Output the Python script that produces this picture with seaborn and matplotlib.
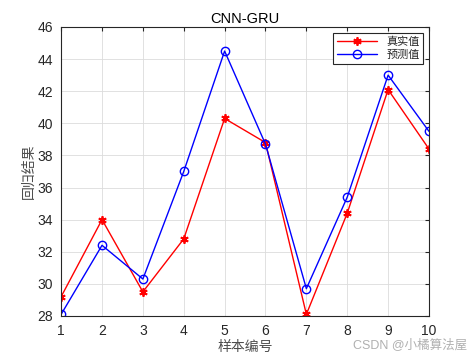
"""
CNN-GRU 回归结果：真实值与预测值对比
"""

import pandas as pd
import matplotlib.pyplot as plt
import seaborn as sns

sample_ids = [1, 2, 3, 4, 5, 6, 7, 8, 9, 10]
true_vals = [29.2, 34.0, 29.5, 32.8, 40.3, 38.8, 28.1, 34.4, 42.1, 38.4]
pred_vals = [28.1, 32.4, 30.3, 37.0, 44.5, 38.7, 29.7, 35.4, 43.0, 39.5]
y_ticks = [28, 30, 32, 34, 36, 38, 40, 42, 44, 46]

sns.set_style('white')
plt.rcParams['font.family'] = ['Liberation Sans', 'Noto Sans CJK SC', 'DejaVu Sans']

CJK = ['Noto Sans CJK SC', 'DejaVu Sans']


def main():
    df = pd.DataFrame({'样本编号': sample_ids, '真实值': true_vals, '预测值': pred_vals})

    fig = plt.figure(figsize=(4.74, 3.55), dpi=100)
    ax = fig.add_axes([0.129, 0.11, 0.776, 0.814])

    sns.lineplot(data=df, x='样本编号', y='真实值', ax=ax, color='#ff0000',
                 marker=(6, 2, 0), markersize=6, markeredgecolor='#ff0000',
                 markeredgewidth=1.3, linewidth=1.0, label='真实值')
    sns.lineplot(data=df, x='样本编号', y='预测值', ax=ax, color='#0000ff',
                 marker='o', markersize=6, markerfacecolor='none',
                 markeredgecolor='#0000ff', markeredgewidth=1.0,
                 linewidth=1.0, label='预测值')

    ax.set_xlim(1, 10)
    ax.set_ylim(28, 46)
    ax.set_xticks(sample_ids)
    ax.set_yticks(y_ticks)
    ax.grid(True, color='#dcdcdc', linewidth=0.6)
    ax.tick_params(direction='in', length=3, top=True, right=True,
                   labelsize=10, colors='#262626', pad=6)
    for sp in ax.spines.values():
        sp.set_color('#262626')
        sp.set_linewidth(0.8)

    ax.set_title('CNN-GRU', fontsize=10.5, color='#000000', pad=3)
    ax.set_xlabel('样本编号', fontsize=10, color='#4d4d4d', labelpad=1,
                  family=CJK)
    ax.set_ylabel('回归结果', fontsize=10, color='#4d4d4d', labelpad=1,
                  family=CJK)

    leg = ax.legend(loc='upper right', fontsize=8, frameon=True, fancybox=False,
                    edgecolor='#262626', framealpha=1, borderpad=0.35,
                    handlelength=3.6, labelspacing=0.25, borderaxespad=0.5,
                    prop={'family': CJK, 'size': 8})
    leg.get_frame().set_linewidth(0.8)

    fig.text(0.985, 0.012, 'CSDN @小橘算法屋', ha='right', va='bottom',
             fontsize=9, color='#b0b0b0', family=['Liberation Sans', 'Noto Sans CJK SC'])

    fig.savefig('out.png', dpi=100)
    plt.close(fig)


if __name__ == '__main__':
    main()
